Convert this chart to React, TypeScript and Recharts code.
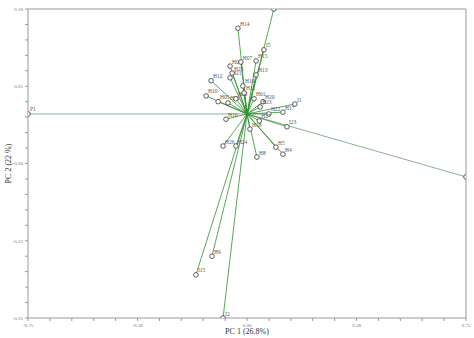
import React from "react";
import { ScatterChart, Scatter, XAxis, YAxis, ReferenceLine, Label } from "recharts";

const names = ["P1","P2","H09","H14","I5","H15","H08","H07","H13","H12","H21","H25","H10","H05","H19","H01","H20","I1","H17","H22","I23","H16","H26","H24","H8","H5","H4","H9","I15","I2","H02","H03","H11","H18","H27","H23"];
const pc1 = [-0.75,0.75,0.092,-0.031,0.058,0.031,-0.058,-0.021,0.031,-0.123,-0.058,-0.051,-0.140,-0.099,-0.014,0.024,0.055,0.164,0.123,0.075,0.137,-0.072,-0.082,-0.038,0.034,0.099,0.123,-0.120,-0.175,-0.082,-0.065,-0.038,-0.010,0.010,0.042,0.045];
const pc2 = [0,-0.108,0.18,0.147,0.110,0.091,0.082,0.089,0.067,0.057,0.062,0.070,0.031,0.021,0.048,0.026,0.021,0.017,0.003,0.000,-0.022,-0.009,-0.055,-0.055,-0.074,-0.057,-0.069,-0.244,-0.276,-0.35,0.019,0.026,0.036,-0.026,-0.012,0.012];

const xMajor = [-0.75, -0.375, 0, 0.375, 0.75];
const xMajorLabels = ["-0.75", "-0.38", "0.00", "0.38", "0.75"];
const yMajor = [-0.35, -0.2175, -0.085, 0.0475, 0.18];
const yMajorLabels = ["-0.35", "-0.22", "-0.08", "0.05", "0.18"];

const xTicks: number[] = [];
for (let i = 0; i < xMajor.length - 1; i++) for (let k = 0; k < 5; k++) xTicks.push(xMajor[i] + (xMajor[i + 1] - xMajor[i]) * k / 5);
xTicks.push(xMajor[xMajor.length - 1]);
const yTicks: number[] = [];
for (let i = 0; i < yMajor.length - 1; i++) for (let k = 0; k < 5; k++) yTicks.push(yMajor[i] + (yMajor[i + 1] - yMajor[i]) * k / 5);
yTicks.push(yMajor[yMajor.length - 1]);

const data = names.map((n, i) => ({ name: n, x: pc1[i], y: pc2[i] }));

const fmt = (majors: number[], labels: string[]) => (v: number) => {
  const idx = majors.findIndex((m) => Math.abs(m - v) < 1e-6);
  return idx >= 0 ? labels[idx] : "";
};

const PointShape = (props: any) => {
  const { cx, cy, payload } = props;
  return (
    <g>
      <circle cx={cx} cy={cy} r={2.3} fill="#fff" stroke="#333" strokeWidth={0.8} />
      <text x={cx + 2} y={cy - 2.5} fontSize={5.5} fontFamily="Liberation Serif, serif" fill="#555">{payload.name}</text>
    </g>
  );
};

export default function App() {
  return (
    <div style={{ position: "absolute", left: 0, top: 0, background: "#fff" }}>
      <ScatterChart width={474} height={338} margin={{ top: 9, right: 8, bottom: 0, left: 0 }}>
        <XAxis type="number" dataKey="x" domain={[-0.75, 0.75]} ticks={xTicks} interval={0}
          tickFormatter={fmt(xMajor, xMajorLabels)} height={20} tickSize={3}
          stroke="#999" tick={{ fontSize: 5, fill: "#777", fontFamily: "Liberation Serif, serif" }} allowDataOverflow>
          <Label value="PC 1 (26.8%)" position="insideBottom" offset={4} style={{ fontSize: 8, fill: "#333", fontFamily: "Liberation Serif, serif" }} />
        </XAxis>
        <YAxis type="number" dataKey="y" domain={[-0.35, 0.18]} ticks={yTicks} interval={0}
          tickFormatter={fmt(yMajor, yMajorLabels)} width={28} tickSize={3}
          stroke="#999" tick={{ fontSize: 5, fill: "#777", fontFamily: "Liberation Serif, serif" }} allowDataOverflow>
          <Label value="PC 2 (22 %)" angle={-90} position="insideLeft" offset={8} style={{ fontSize: 8, fill: "#333", fontFamily: "Liberation Serif, serif", textAnchor: "middle" }} />
        </YAxis>
        <ReferenceLine y={0.18} stroke="#999" strokeWidth={1} />
        <ReferenceLine x={0.75} stroke="#999" strokeWidth={1} />
        {data.map((d) => (
          <ReferenceLine key={"l" + d.name}
            segment={[{ x: 0, y: 0 }, { x: d.x, y: d.y }]}
            stroke={d.name.startsWith("P") ? "#6e9e6e" : "#2f8f2f"} strokeWidth={0.8} ifOverflow="visible" />
        ))}
        <Scatter data={data} isAnimationActive={false} shape={PointShape} />
      </ScatterChart>
    </div>
  );
}
